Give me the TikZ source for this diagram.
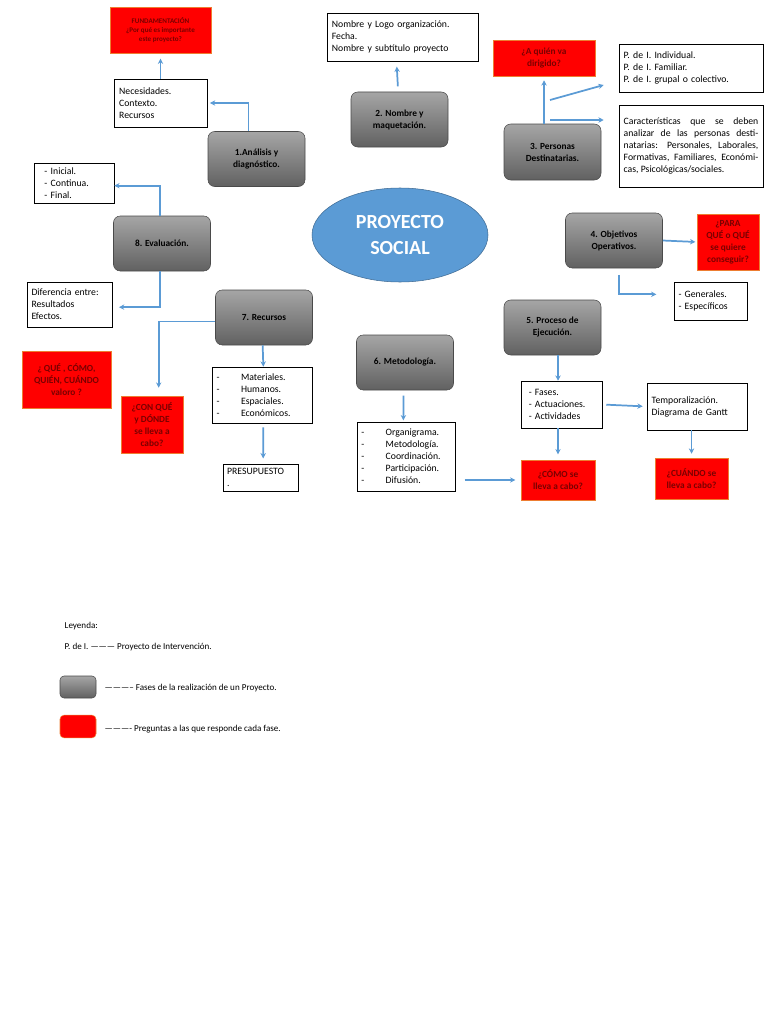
\documentclass[tikz,border=0pt]{standalone}
\usepackage{fontspec}
\setmainfont{Carlito}
\usepackage{tikz}
\usetikzlibrary{arrows.meta,positioning,calc,shapes.geometric}
\definecolor{phasegray}{HTML}{8C8C8C}
\definecolor{phaseedge}{HTML}{4A4A4A}
\definecolor{askred}{HTML}{FF0000}
\definecolor{askedge}{HTML}{ED7D31}
\definecolor{asktext}{HTML}{7A0000}
\definecolor{linkblue}{HTML}{5B9BD5}
\definecolor{ovalblue}{HTML}{5B9BD5}

\tikzset{
    phase/.style={draw=phaseedge, rounded corners=5pt, top color=black!35, bottom color=black!62,
        minimum width=72.75pt, minimum height=41.25pt, align=center,
        font=\fontsize{7}{9}\selectfont\bfseries},
    ask/.style={draw=askedge, fill=askred, align=center, text=asktext, inner sep=1pt,
        font=\fontsize{7}{9}\selectfont\bfseries},
    info/.style={draw=black, fill=white, align=left, inner sep=3pt,
        font=\fontsize{7.3}{9}\selectfont},
    conn/.style={-{Stealth[length=4pt,width=4pt]}, linkblue, line width=1.3pt},
}

\begin{document}
\begin{tikzpicture}[x=0.75pt,y=-0.75pt]
    \useasboundingbox (0,0) rectangle (768,1024);
    \fill[white] (0,0) rectangle (768,1024);

    % Centre
    \node[ellipse, draw=ovalblue!70!black, fill=ovalblue, minimum width=132pt, minimum height=70.5pt,
        text=white, align=center, font=\fontsize{15}{20}\selectfont\bfseries] (centre) at (400,235) {PROYECTO\\SOCIAL};

    % === 1. Analisis ===
    \node[ask, minimum width=75.75pt, minimum height=34.5pt, font=\fontsize{5.3}{7}\selectfont\bfseries] (fund) at (160.5,30)
        {FUNDAMENTACIÓN\\¿Por qué es importante\\este proyecto?};
    \node[info, minimum width=69.75pt, minimum height=36pt, text width=62pt] (need) at (160.5,103)
        {Necesidades.\\Contexto.\\Recursos};
    \node[phase] (analysis) at (256.5,159) {1.Análisis y\\diagnóstico.};
    \draw[conn] ([xshift=-6pt]analysis.north) |- ([xshift=2pt]need.east);
    \draw[conn, shorten >=4pt] (need.north) -- (fund.south);

    % === 2. Nombre ===
    \node[info, minimum width=113.25pt, minimum height=36pt, text width=106pt, anchor=center] (logo) at (402.5,37)
        {Nombre y Logo organización.\\Fecha.\\Nombre y subtítulo proyecto};
    \node[phase] (name) at (399.5,119.5) {2. Nombre y\\maquetación.};
    \draw[conn, shorten <=4pt, shorten >=4pt] ([xshift=-1pt]name.north) -- ([xshift=-4.5pt]logo.south);

    % === 3. Personas ===
    \node[ask, minimum width=76.5pt, minimum height=27pt] (whom) at (544,58) {¿A quién va\\dirigido?};
    \node[phase, minimum height=42pt] (people) at (552.5,152) {3. Personas\\Destinatarias.};
    \node[info, minimum width=108pt, minimum height=36pt, text width=101pt] (kinds) at (691,68)
        {P. de I. Individual.\\P. de I. Familiar.\\P. de I. grupal o colectivo.};
    \node[info, minimum width=108pt, minimum height=61.5pt, text width=101pt, align=justify] (traits) at (691,146)
        {Características que se deben analizar de las personas destinatarias: Personales, Laborales, Formativas, Familiares, Económicas, Psicológicas/sociales.};
    \coordinate (p1) at (550,100);
    \coordinate (p2) at (550,120);
    \draw[conn, shorten >=3pt] (people.north -| whom.south) -- (whom.south);
    \draw[conn] (p1) -- ($(kinds.west)+(-15,17)$);
    \draw[conn] (p2) -- ($(traits.west |- p2)+(-15,0)$);

    % === 4. Objetivos ===
    \node[phase] (goals) at (614,240.5) {4. Objetivos\\Operativos.};
    \node[ask, minimum width=46.5pt, minimum height=42pt] (what) at (728,242) {¿PARA\\QUÉ o QUÉ\\se quiere\\conseguir?};
    \node[info, minimum width=54.75pt, minimum height=28.5pt, text width=48pt] (aims) at (710.5,301)
        {- Generales.\\- Específicos};
    \draw[conn, shorten >=1pt] (goals.east) -- (what.west);
    \draw[conn] ([xshift=3.75pt,yshift=-5pt]goals.south) |- ([xshift=-13pt,yshift=5pt]aims.west);

    % === 5. Proceso ===
    \node[phase] (process) at (552.5,327.5) {5. Proceso de\\Ejecución.};
    \node[info, minimum width=60.75pt, minimum height=35.25pt, text width=54pt] (steps) at (561.5,404.5)
        {\ - Fases.\\\ - Actuaciones.\\\ - Actividades};
    \node[info, minimum width=75pt, minimum height=35.25pt, text width=68pt, text depth=10pt] (timing) at (697,406.5)
        {Temporalización.\\Diagrama de Gantt};
    \node[ask, minimum width=55.5pt, minimum height=30pt] (how) at (558,480) {¿CÓMO se\\lleva a cabo?};
    \node[ask, minimum width=54.75pt, minimum height=30.75pt] (when) at (691.5,478.5) {¿CUÁNDO se\\lleva a cabo?};
    \draw[conn] (process.south -| how.north) -- (how.north |- steps.north);
    \draw[conn, shorten >=4pt] (how.north |- steps.south) -- (how.north);
    \draw[conn, shorten <=3pt, shorten >=3pt] (steps.east) -- (timing.west);
    \draw[conn, shorten >=3pt] (when.north |- timing.south) -- (when.north);

    % === 6. Metodologia ===
    \node[phase] (method) at (405,362.5) {6. Metodología.};
    \node[info, minimum width=73.5pt, minimum height=51.75pt, text width=67pt] (tools) at (406,456.5)
        {-\hspace{2.2em}Organigrama.\\-\hspace{2.2em}Metodología.\\-\hspace{2.2em}Coordinación.\\-\hspace{2.2em}Participación.\\-\hspace{2.2em}Difusión.};
    \draw[conn, shorten <=4pt, shorten >=1pt] ([xshift=-1pt]method.south) -- ([xshift=-2pt]tools.north);
    \draw[conn, shorten <=7pt, shorten >=4pt] (tools.east |- how.west) -- (how.west);

    % === 7. Recursos ===
    \node[phase] (means) at (264,317.5) {7. Recursos};
    \node[info, minimum width=75pt, minimum height=42pt, text width=68pt] (stock) at (262,395)
        {-\hspace{2.2em}Materiales.\\-\hspace{2.2em}Humanos.\\-\hspace{2.2em}Espaciales.\\-\hspace{2.2em}Económicos.};
    \node[info, minimum width=56.25pt, minimum height=20.25pt, text width=50pt, inner sep=2pt] (budget) at (260.5,477.5)
        {PRESUPUESTO\\.};
    \node[ask, minimum width=46.5pt, minimum height=42.75pt] (where) at (152,424.5) {¿CON QUÉ\\y DÓNDE\\se lleva a\\cabo?};
    \draw[conn] ([xshift=-1pt]means.south) -- ([xshift=1pt]stock.north);
    \draw[conn, shorten <=3pt, shorten >=4pt] ([xshift=1pt]stock.south) -- ([xshift=2pt]budget.north);
    \draw[conn, shorten >=6pt] ([yshift=-3pt]means.west) -| ([xshift=5pt]where.north);

    % === 8. Evaluacion ===
    \node[ask, minimum width=66.75pt, minimum height=42.75pt] (judge) at (66.5,379.5) {¿ QUÉ , CÓMO,\\QUIÉN, CUÁNDO\\valoro ?};
    \node[phase] (review) at (162,243.5) {8. Evaluación.};
    \node[info, minimum width=60pt, minimum height=30pt, text width=54pt] (moments) at (74,183)
        {\ \ - Inicial.\\\ \ - Continua.\\\ \ - Final.};
    \node[info, minimum width=63.75pt, minimum height=33.75pt, text width=57pt] (gap) at (69.5,304.5)
        {Diferencia entre:\\Resultados\\Efectos.};
    \draw[conn] ([xshift=-1.5pt]review.north) |- ([yshift=-2pt]moments.east);
    \draw[conn] ([xshift=-1.5pt]review.south) |- ([xshift=5pt,yshift=-2pt]gap.east);

    % Legend
    \begin{scope}[font=\fontsize{6.8}{8}\selectfont]
        \node[anchor=west] (legtitle) at (60,626) {Leyenda:};
        \node[anchor=west] (legpi) at (60,647) {P. de I. --------- Proyecto de Intervención.};
        \node[phase, minimum width=27pt, minimum height=16.5pt, rounded corners=3pt] (legphase) at (78,687) {};
        \node[anchor=west] (legphasetext) at (100,688) {----------- Fases de la realización de un Proyecto.};
        \node[draw=askedge, fill=askred, minimum width=27pt, minimum height=17pt, rounded corners=3pt] (legask) at (78,726.5) {};
        \node[anchor=west] (legasktext) at (100,729) {---------- Preguntas a las que responde cada fase.};
    \end{scope}
\end{tikzpicture}
\end{document}
